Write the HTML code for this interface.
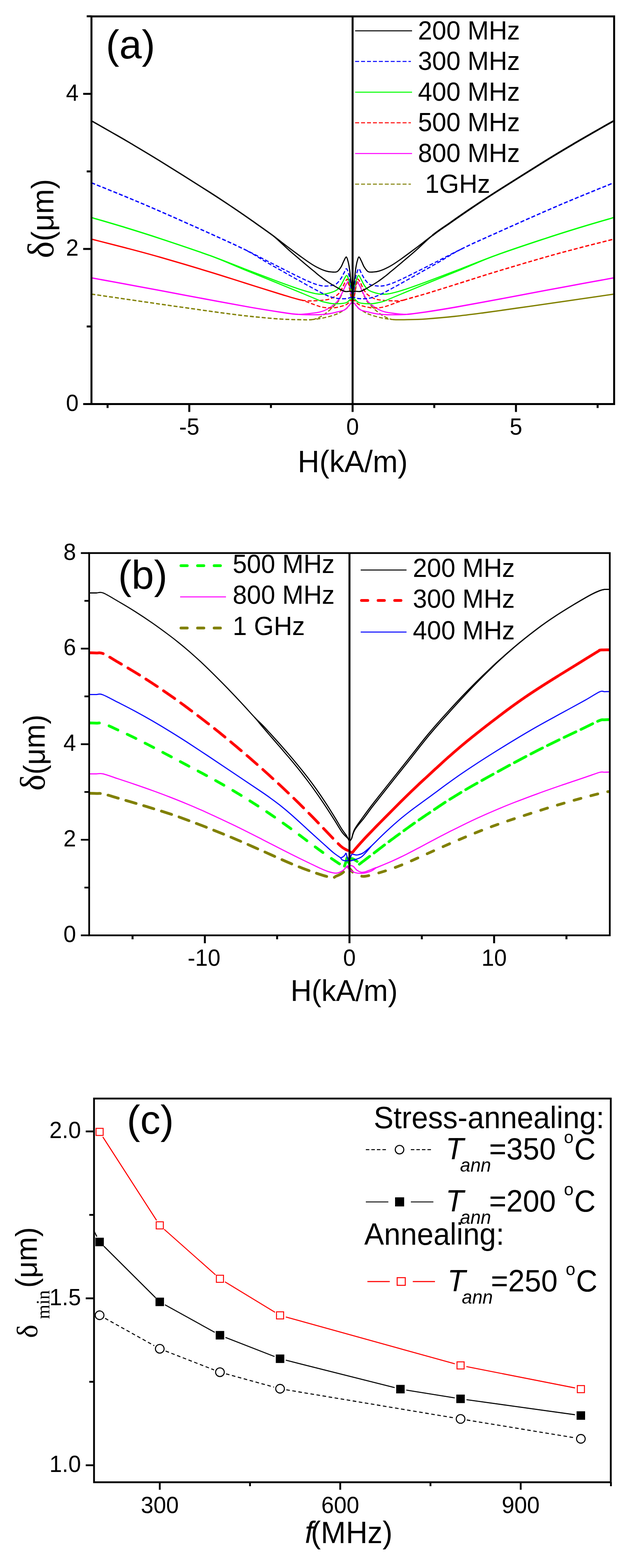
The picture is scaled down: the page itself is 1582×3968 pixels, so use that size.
<!DOCTYPE html>
<html><head><meta charset="utf-8"><title>Figure</title>
<style>html,body{margin:0;padding:0;background:#fff;}svg{display:block;}</style>
</head><body>
<svg width="1582" height="3968" viewBox="0 0 1582 3968">
<rect width="1582" height="3968" fill="#fff"/>
<clipPath id="ca"><rect x="231.5" y="41.5" width="1323.0" height="981.0"/></clipPath>
<g clip-path="url(#ca)">
<path d="M231.5,744.3C245.8,746.4 288.6,752.6 317.6,756.9C346.6,761.1 378.5,765.7 405.3,769.6C432.1,773.5 452.5,776.4 478.3,780C504.1,783.7 534.2,788.1 560,791.5C585.8,794.9 608.7,798 633,800.5C657.3,803.1 685.7,805.7 706,807.1C726.3,808.5 740.5,808.7 754.7,808.9C768.9,809.2 782.1,809.8 791.3,808.6" fill="none" stroke="#808000" stroke-width="3.3" stroke-linecap="butt" stroke-linejoin="round" stroke-dasharray="10 5"/>
<path d="M993.7,808.6C1004.6,809.4 1016.1,809.2 1030.3,808.9C1044.5,808.7 1058.7,808.5 1079,807.1C1099.3,805.7 1127.7,803.1 1152,800.5C1176.3,798 1199.2,794.9 1225,791.5C1250.8,788.1 1280.9,783.7 1306.7,780C1332.5,776.4 1352.9,773.5 1379.7,769.6C1406.5,765.7 1438.4,761.1 1467.4,756.9C1496.4,752.6 1539.2,746.4 1553.5,744.3" fill="none" stroke="#808000" stroke-width="3.3" stroke-linecap="butt" stroke-linejoin="round"/>
<path d="M791.3,808.6C800.5,807.4 805.3,803.9 810,802C814.7,800 815.5,799.4 819.5,796.6C823.5,793.8 829.6,789 834.1,785.1C838.6,781.2 843,776.9 846.7,773.1C850.4,769.3 853.6,766.7 856.5,762.3C859.4,757.9 862,751.7 864.3,746.7C866.6,741.7 868.2,736.6 870.1,732.1C872,727.6 874.3,722.6 875.9,719.5C877.5,716.4 878.3,713.1 879.5,713.5C880.7,713.9 881.8,716.8 883,722C884.2,727.2 885.8,738.7 887,745C888.2,751.3 889.1,756.2 890,760C890.9,763.8 891.3,766.6 892.5,768C893.7,769.4 895,766.2 897.4,768.2C899.8,770.2 903,776.3 907.1,779.8C911.2,783.3 916.8,786.5 921.7,789.2C926.6,791.9 929.1,793.7 936.3,796.2C943.5,798.7 955.4,802.1 965,804.2C974.6,806.3 982.8,807.8 993.7,808.6" fill="none" stroke="#808000" stroke-width="2.9" stroke-linecap="butt" stroke-linejoin="round" stroke-dasharray="10 5"/>
<path d="M791.3,808.6C802.2,807.8 810.4,806.3 820,804.2C829.6,802.1 841.5,798.7 848.7,796.2C855.9,793.7 858.4,791.9 863.3,789.2C868.2,786.5 873.8,783.3 877.9,779.8C882,776.3 885.2,771 887.6,768.2C890,765.4 891.3,764.4 892.5,763C893.7,761.6 894.1,763 895,760C895.9,757 896.8,751.3 898,745C899.2,738.7 900.8,727.2 902,722C903.2,716.8 904.3,713.9 905.5,713.5C906.7,713.1 907.5,716.4 909.1,719.5C910.7,722.6 913,727.6 914.9,732.1C916.8,736.6 918.4,741.7 920.7,746.7C923,751.7 925.6,757.9 928.5,762.3C931.4,766.7 934.6,769.3 938.3,773.1C942,776.9 946.4,781.2 950.9,785.1C955.4,789 961.5,793.8 965.5,796.6C969.5,799.4 970.3,800 975,802C979.7,803.9 984.5,807.4 993.7,808.6" fill="none" stroke="#808000" stroke-width="2.9" stroke-linecap="butt" stroke-linejoin="round" stroke-dasharray="10 5" stroke-dashoffset="5"/>
<path d="M231.5,703.2C245.8,705.8 288.6,713.6 317.6,718.9C346.6,724.2 369.9,728.6 405.3,735.2C440.7,741.8 492.1,751.6 530,758.7C568,765.7 603.7,772.4 633,777.5C662.3,782.6 685.7,786.3 706,789.3C726.3,792.3 739,795.1 754.7,795.5" fill="none" stroke="#ff00ff" stroke-width="3.3" stroke-linecap="butt" stroke-linejoin="round"/>
<path d="M1030.3,795.5C1046.5,794.3 1058.7,792.3 1079,789.3C1099.3,786.3 1122.7,782.6 1152,777.5C1181.3,772.4 1217,765.7 1255,758.7C1293,751.6 1344.3,741.8 1379.7,735.2C1415.1,728.6 1438.4,724.2 1467.4,718.9C1496.4,713.6 1539.2,705.8 1553.5,703.2" fill="none" stroke="#ff00ff" stroke-width="3.3" stroke-linecap="butt" stroke-linejoin="round"/>
<path d="M754.7,795.5C770.4,795.9 789.2,792.9 800,791.4C810.8,789.9 813,789.1 819.5,786.5C826,783.8 833.3,779.4 839,775.6C844.7,771.7 849.6,768.1 853.6,763.3C857.6,758.5 860.1,752.9 863.3,746.7C866.5,740.5 870.1,731.9 873,726.3C875.9,720.7 879,714 880.8,713C882.6,712 883,715.8 884,720C885,724.2 886,732.2 887,738C888,743.8 889.1,750.5 890,755C890.9,759.5 891.3,762.8 892.5,765C893.7,767.2 894.1,765.1 897.4,768.2C900.6,771.3 906.3,780.2 912,783.7C917.7,787.2 924.1,787.6 931.4,789.4C938.7,791.3 947.4,793.4 955.8,794.6C964.2,795.7 969.2,796.3 981.6,796.5C994,796.7 1014.1,796.7 1030.3,795.5" fill="none" stroke="#ff00ff" stroke-width="2.9" stroke-linecap="butt" stroke-linejoin="round"/>
<path d="M754.7,795.5C770.9,796.7 791,796.7 803.4,796.5C815.8,796.3 820.8,795.7 829.2,794.6C837.6,793.4 846.3,791.3 853.6,789.4C860.9,787.6 867.3,787.2 873,783.7C878.7,780.2 884.4,771.8 887.6,768.2C890.9,764.6 891.3,764.2 892.5,762C893.7,759.8 894.1,759 895,755C895.9,751 897,743.8 898,738C899,732.2 900,724.2 901,720C902,715.8 902.4,712 904.2,713C906,714 909.1,720.7 912,726.3C914.9,731.9 918.5,740.5 921.7,746.7C924.9,752.9 927.4,758.5 931.4,763.3C935.4,768.1 940.3,771.7 946,775.6C951.7,779.4 959,783.8 965.5,786.5C972,789.1 974.2,789.9 985,791.4C995.8,792.9 1014.6,795.9 1030.3,795.5" fill="none" stroke="#ff00ff" stroke-width="2.9" stroke-linecap="butt" stroke-linejoin="round"/>
<path d="M231.5,605.2C245.8,608.8 288.6,619.5 317.6,627.1C346.6,634.7 369.9,640.7 405.3,650.9C440.7,661 494.6,677 530,687.8C565.4,698.5 588.4,706.2 617.6,715.4C646.8,724.6 680.9,735.4 705.3,742.8C729.6,750.1 747.9,756.6 763.7,759.6" fill="none" stroke="#ff0000" stroke-width="3.3" stroke-linecap="butt" stroke-linejoin="round"/>
<path d="M1021.3,759.6C1037.9,754.4 1055.3,750.1 1079.7,742.8C1104.1,735.4 1138.2,724.6 1167.4,715.4C1196.6,706.2 1219.6,698.5 1255,687.8C1290.4,677 1344.3,661 1379.7,650.9C1415.1,640.7 1438.4,634.7 1467.4,627.1C1496.4,619.5 1539.2,608.8 1553.5,605.2" fill="none" stroke="#ff0000" stroke-width="3.3" stroke-linecap="butt" stroke-linejoin="round" stroke-dasharray="10 5"/>
<path d="M763.7,759.6C779.5,762.6 789.1,761.2 800,761C810.9,760.7 821.9,759.5 829.2,758.1C836.5,756.7 839.2,754.8 843.8,752.4C848.3,750 852.8,747.7 856.5,743.8C860.2,739.9 863.5,734.1 866.2,729.2C869,724.3 870.9,718.4 873,714.6C875.1,710.8 877.4,706.9 878.9,706.5C880.4,706.1 880.8,708.1 882,712C883.2,715.9 884.8,724 886,730C887.2,736 887.9,743 889,748C890.1,753 891.1,757.9 892.5,760C893.9,762.1 895,758.7 897.4,760.4C899.8,762.1 903,767.6 907.1,770.1C911.2,772.6 916.8,773.9 921.7,775.3C926.6,776.7 931.4,777.9 936.3,778.5C941.2,779.2 946,779.4 950.9,779.3C955.8,779.2 960.6,778.8 965.5,777.9C970.4,777.1 970.8,777.3 980.1,774.2C989.4,771.2 1004.7,764.8 1021.3,759.6" fill="none" stroke="#ff0000" stroke-width="2.9" stroke-linecap="butt" stroke-linejoin="round" stroke-dasharray="10 5"/>
<path d="M763.7,759.6C780.3,764.8 795.6,771.2 804.9,774.2C814.2,777.3 814.6,777.1 819.5,777.9C824.4,778.8 829.2,779.2 834.1,779.3C839,779.4 843.8,779.2 848.7,778.5C853.6,777.9 858.4,776.7 863.3,775.3C868.2,773.9 873.8,772.6 877.9,770.1C882,767.6 885.2,762.4 887.6,760.4C890,758.4 891.1,760.1 892.5,758C893.9,755.9 894.9,752.7 896,748C897.1,743.3 897.8,736 899,730C900.2,724 901.8,715.9 903,712C904.2,708.1 904.6,706.1 906.1,706.5C907.6,706.9 909.9,710.8 912,714.6C914.1,718.4 916,724.3 918.8,729.2C921.5,734.1 924.8,739.9 928.5,743.8C932.2,747.7 936.7,750 941.2,752.4C945.8,754.8 948.5,756.7 955.8,758.1C963.1,759.5 974.1,760.7 985,761C995.9,761.2 1005.5,762.6 1021.3,759.6" fill="none" stroke="#ff0000" stroke-width="2.9" stroke-linecap="butt" stroke-linejoin="round" stroke-dasharray="10 5" stroke-dashoffset="5"/>
<path d="M231.5,550.5C245.8,554.7 288.6,567 317.6,575.9C346.6,584.8 369.9,592 405.3,603.7C440.7,615.4 494.6,633.5 530,646.2" fill="none" stroke="#00ff00" stroke-width="3.3" stroke-linecap="butt" stroke-linejoin="round"/>
<path d="M1255,646.2C1290.4,633.1 1344.3,615.4 1379.7,603.7C1415.1,592 1438.4,584.8 1467.4,575.9C1496.4,567 1539.2,554.7 1553.5,550.5" fill="none" stroke="#00ff00" stroke-width="3.3" stroke-linecap="butt" stroke-linejoin="round"/>
<path d="M530,646.2C565.4,658.9 588.4,668.7 617.6,679.8C646.8,691 680.9,704.1 705.3,713.1C729.6,722.1 748.1,728.7 763.7,733.7C779.3,738.7 789.4,741.3 798.7,743.1C808,744.9 812.8,744.9 819.5,744.4C826.2,743.8 833.3,741.7 839,739.9C844.7,738 849.6,736.2 853.6,733.1C857.6,730 860.1,726.4 863.3,721.4C866.5,716.4 870.6,707 873,702.9C875.4,698.8 876.1,696.9 877.4,696.9C878.7,696.9 879.6,699.6 881,703C882.4,706.4 884.3,711.4 885.7,717.4C887.1,723.4 888.5,732.7 889.6,739C890.7,745.3 891.2,752.1 892.5,755C893.8,757.9 895,754.8 897.4,756.5C899.8,758.2 903,763.3 907.1,765.2C911.2,767.1 916,767.6 921.7,768.1C927.4,768.7 933.9,769.2 941.2,768.6C948.5,767.9 959.5,765.6 965.5,764.1C971.5,762.7 968.2,763.7 977.5,760C986.8,756.2 1004.3,748.7 1021.3,741.6C1038.3,734.6 1055.3,727.6 1079.7,717.7C1104.1,707.8 1138.2,694 1167.4,682.1C1196.6,670.2 1219.6,659.3 1255,646.2" fill="none" stroke="#00ff00" stroke-width="2.9" stroke-linecap="butt" stroke-linejoin="round"/>
<path d="M530,646.2C565.4,659.3 588.4,670.2 617.6,682.1C646.8,694 680.9,707.8 705.3,717.7C729.6,727.6 746.7,734.6 763.7,741.6C780.7,748.7 798.2,756.2 807.5,760C816.8,763.7 813.5,762.7 819.5,764.1C825.5,765.6 836.5,767.9 843.8,768.6C851.1,769.2 857.6,768.7 863.3,768.1C869,767.6 873.8,767.1 877.9,765.2C882,763.3 885.2,758.2 887.6,756.5C890,754.8 891.2,757.9 892.5,755C893.8,752.1 894.3,745.3 895.4,739C896.5,732.7 897.9,723.4 899.3,717.4C900.7,711.4 902.6,706.4 904,703C905.4,699.6 906.3,696.9 907.6,696.9C908.9,696.9 909.6,698.8 912,702.9C914.4,707 918.5,716.4 921.7,721.4C924.9,726.4 927.4,730 931.4,733.1C935.4,736.2 940.3,738 946,739.9C951.7,741.7 958.8,743.8 965.5,744.4C972.2,744.9 977,744.9 986.3,743.1C995.6,741.3 1005.7,738.7 1021.3,733.7C1036.9,728.7 1055.3,722.1 1079.7,713.1C1104.1,704.1 1138.2,691 1167.4,679.8C1196.6,668.7 1219.6,658.9 1255,646.2" fill="none" stroke="#00ff00" stroke-width="2.9" stroke-linecap="butt" stroke-linejoin="round"/>
<path d="M231.5,462.6C245.8,468.4 288.6,485.6 317.6,497.6C346.6,509.6 369.9,519.3 405.3,534.8C440.7,550.2 494.6,574.3 530,590.2C565.4,606.2 593.3,618.8 617.6,630.5" fill="none" stroke="#0000ff" stroke-width="3.3" stroke-linecap="butt" stroke-linejoin="round" stroke-dasharray="10 5"/>
<path d="M1167.4,630.5C1191.7,618.1 1219.6,606.2 1255,590.2C1290.4,574.3 1344.3,550.2 1379.7,534.8C1415.1,519.3 1438.4,509.6 1467.4,497.6C1496.4,485.6 1539.2,468.4 1553.5,462.6" fill="none" stroke="#0000ff" stroke-width="3.3" stroke-linecap="butt" stroke-linejoin="round" stroke-dasharray="10 5"/>
<path d="M617.6,630.5C641.9,642.2 656.5,650.3 676,660.2C695.5,670.1 717.5,681.4 734.5,689.9C751.5,698.4 766.7,705.9 778.3,711.1C789.9,716.2 796.6,718.7 803.9,720.8C811.2,723 816.6,723.7 822.1,724C827.6,724.3 832.2,723.6 837,722.7C841.8,721.9 846.4,721.8 850.6,719C854.8,716.2 859,710.3 862.3,705.8C865.5,701.3 867.7,696.3 870.1,692C872.5,687.7 874.8,679.6 876.9,679.9C879,680.2 881.3,689.4 882.8,694C884.3,698.6 884.7,701.6 885.7,707.6C886.7,713.6 887.9,722.6 889,730C890.1,737.4 891.1,748.2 892.5,752C893.9,755.8 895,752 897.4,752.6C899.8,753.2 903,754.9 907.1,755.5C911.2,756.1 916.8,756.1 921.7,756C926.6,755.8 931.6,755.3 936.3,754.4C941,753.5 945.6,752.1 950,750.5C954.4,749 958,747.4 962.9,745.1C967.8,742.8 971.9,740.7 979.2,736.9C986.5,733 994.8,728.4 1006.7,721.9C1018.6,715.3 1033.5,707 1050.5,697.4C1067.5,687.8 1089.5,675.5 1109,664.3C1128.5,653.2 1143.1,642.9 1167.4,630.5" fill="none" stroke="#0000ff" stroke-width="2.9" stroke-linecap="butt" stroke-linejoin="round" stroke-dasharray="10 5"/>
<path d="M617.6,630.5C641.9,642.9 656.5,653.2 676,664.3C695.5,675.5 717.5,687.8 734.5,697.4C751.5,707 766.4,715.3 778.3,721.9C790.2,728.4 798.5,733 805.8,736.9C813.1,740.7 817.2,742.8 822.1,745.1C827,747.4 830.6,749 835,750.5C839.4,752.1 844,753.5 848.7,754.4C853.4,755.3 858.4,755.8 863.3,756C868.2,756.1 873.8,756.1 877.9,755.5C882,754.9 885.2,753.2 887.6,752.6C890,752 891.1,755.8 892.5,752C893.9,748.2 894.9,737.4 896,730C897.1,722.6 898.3,713.6 899.3,707.6C900.3,701.6 900.7,698.6 902.2,694C903.7,689.4 906,680.2 908.1,679.9C910.2,679.6 912.5,687.7 914.9,692C917.3,696.3 919.5,701.3 922.7,705.8C926,710.3 930.2,716.2 934.4,719C938.6,721.8 943.2,721.9 948,722.7C952.8,723.6 957.4,724.3 962.9,724C968.4,723.7 973.8,723 981.1,720.8C988.4,718.7 995.1,716.2 1006.7,711.1C1018.3,705.9 1033.5,698.4 1050.5,689.9C1067.5,681.4 1089.5,670.1 1109,660.2C1128.5,650.3 1143.1,642.2 1167.4,630.5" fill="none" stroke="#0000ff" stroke-width="2.9" stroke-linecap="butt" stroke-linejoin="round" stroke-dasharray="10 5" stroke-dashoffset="5"/>
<path d="M231.5,305.8C240,310.6 266.8,325.8 282.6,334.9C298.4,343.9 305.9,348 326.4,360.2C346.8,372.3 371.4,386.6 405.3,407.6C439.2,428.6 499.5,466.6 530,486C560.5,505.5 568.9,511.3 588.4,524.4C607.9,537.5 629.8,552.7 646.8,564.7C663.8,576.6 676.1,585.2 690.7,596" fill="none" stroke="#000" stroke-width="3.3" stroke-linecap="butt" stroke-linejoin="round"/>
<path d="M1094.3,596C1108.9,584.2 1121.2,576.6 1138.2,564.7C1155.2,552.7 1177.1,537.5 1196.6,524.4C1216.1,511.3 1224.5,505.5 1255,486C1285.5,466.6 1345.8,428.6 1379.7,407.6C1413.6,386.6 1438.1,372.3 1458.6,360.2C1479,348 1486.6,343.9 1502.4,334.9C1518.2,325.8 1545,310.6 1553.5,305.8" fill="none" stroke="#000" stroke-width="4.3" stroke-linecap="butt" stroke-linejoin="round"/>
<path d="M690.7,596C705.3,606.8 719.9,618.6 734.5,629.5C749.1,640.4 767.4,653.9 778.3,661.4C789.2,669 792.3,671 800,675C807.7,679.1 817.5,683.5 824.3,685.7C831.1,687.9 836,688.2 840.9,688.4C845.8,688.7 849.9,689.4 853.6,687.2C857.3,685 860.5,679.9 863.3,675.5C866,671.1 867.9,665.1 870.1,660.9C872.3,656.7 874.6,650.2 876.4,650.2C878.2,650.2 879.6,656.9 880.8,660.9C882,664.9 882.9,670 883.7,674.5C884.5,679 885.1,682.7 885.7,688.2C886.4,693.7 887,702 887.6,707.6C888.2,713.2 888.7,717.1 889.5,722C890.3,726.9 890.7,734.5 892.5,737C894.3,739.5 897,736.9 900.3,737C903.5,737.1 907.3,738.7 912,737.5C916.7,736.3 921.2,733.6 928.5,729.6C935.8,725.5 948,718.2 955.8,713.1C963.6,708 970.4,702.5 975.3,698.8C980.2,695.1 979.8,695.2 985,690.8C990.2,686.5 995.8,682 1006.7,672.8C1017.6,663.6 1035.9,648.5 1050.5,635.7C1065.1,622.9 1079.7,607.8 1094.3,596" fill="none" stroke="#000" stroke-width="2.9" stroke-linecap="butt" stroke-linejoin="round"/>
<path d="M690.7,596C705.3,607.8 719.9,622.9 734.5,635.7C749.1,648.5 767.4,663.6 778.3,672.8C789.2,682 794.8,686.5 800,690.8C805.2,695.2 804.8,695.1 809.7,698.8C814.6,702.5 821.4,708 829.2,713.1C837,718.2 849.2,725.5 856.5,729.6C863.8,733.6 868.3,736.3 873,737.5C877.7,738.7 881.5,737.2 884.7,737C888,736.8 890.7,739 892.5,736.5C894.3,734 894.7,726.8 895.5,722C896.3,717.2 896.8,713.2 897.4,707.6C898,702 898.6,693.7 899.3,688.2C899.9,682.7 900.5,679 901.3,674.5C902.1,670 903,664.9 904.2,660.9C905.4,656.9 906.8,650.2 908.6,650.2C910.4,650.2 912.7,656.7 914.9,660.9C917.1,665.1 919,671.1 921.7,675.5C924.5,679.9 927.7,685 931.4,687.2C935.1,689.4 939.2,688.7 944.1,688.4C949,688.2 953.9,687.9 960.7,685.7C967.5,683.5 977.3,679.1 985,675C992.7,671 995.8,669 1006.7,661.4C1017.6,653.9 1035.9,640.4 1050.5,629.5C1065.1,618.6 1079.7,606.8 1094.3,596" fill="none" stroke="#000" stroke-width="2.9" stroke-linecap="butt" stroke-linejoin="round"/>
</g>
<line x1="892.5" y1="41.5" x2="892.5" y2="1022.5" stroke="#000" stroke-width="5" stroke-linecap="butt"/>
<rect x="231.5" y="41.5" width="1323" height="981" fill="none" stroke="#000" stroke-width="5"/>
<line x1="210.5" y1="1022.5" x2="231.5" y2="1022.5" stroke="#000" stroke-width="5" stroke-linecap="butt"/>
<line x1="210.5" y1="630" x2="231.5" y2="630" stroke="#000" stroke-width="5" stroke-linecap="butt"/>
<line x1="210.5" y1="237.5" x2="231.5" y2="237.5" stroke="#000" stroke-width="5" stroke-linecap="butt"/>
<line x1="219.5" y1="826.2" x2="231.5" y2="826.2" stroke="#000" stroke-width="5" stroke-linecap="butt"/>
<line x1="219.5" y1="433.8" x2="231.5" y2="433.8" stroke="#000" stroke-width="5" stroke-linecap="butt"/>
<line x1="219.5" y1="41.2" x2="231.5" y2="41.2" stroke="#000" stroke-width="5" stroke-linecap="butt"/>
<line x1="479.1" y1="1022.5" x2="479.1" y2="1042.5" stroke="#000" stroke-width="5" stroke-linecap="butt"/>
<line x1="892.5" y1="1022.5" x2="892.5" y2="1042.5" stroke="#000" stroke-width="5" stroke-linecap="butt"/>
<line x1="1306" y1="1022.5" x2="1306" y2="1042.5" stroke="#000" stroke-width="5" stroke-linecap="butt"/>
<line x1="272.3" y1="1022.5" x2="272.3" y2="1032.5" stroke="#000" stroke-width="5" stroke-linecap="butt"/>
<line x1="685.8" y1="1022.5" x2="685.8" y2="1032.5" stroke="#000" stroke-width="5" stroke-linecap="butt"/>
<line x1="1099.2" y1="1022.5" x2="1099.2" y2="1032.5" stroke="#000" stroke-width="5" stroke-linecap="butt"/>
<line x1="1512.7" y1="1022.5" x2="1512.7" y2="1032.5" stroke="#000" stroke-width="5" stroke-linecap="butt"/>
<text transform="translate(199,1039.5) scale(1,1.03)" font-size="57.5" text-anchor="end" font-family='"Liberation Sans", Arial, sans-serif' xml:space="preserve">0</text>
<text transform="translate(199,647) scale(1,1.03)" font-size="57.5" text-anchor="end" font-family='"Liberation Sans", Arial, sans-serif' xml:space="preserve">2</text>
<text transform="translate(199,254.5) scale(1,1.03)" font-size="57.5" text-anchor="end" font-family='"Liberation Sans", Arial, sans-serif' xml:space="preserve">4</text>
<text transform="translate(479.1,1100) scale(1,1.03)" font-size="57.5" text-anchor="middle" font-family='"Liberation Sans", Arial, sans-serif' xml:space="preserve">-5</text>
<text transform="translate(892.5,1100) scale(1,1.03)" font-size="57.5" text-anchor="middle" font-family='"Liberation Sans", Arial, sans-serif' xml:space="preserve">0</text>
<text transform="translate(1306,1100) scale(1,1.03)" font-size="57.5" text-anchor="middle" font-family='"Liberation Sans", Arial, sans-serif' xml:space="preserve">5</text>
<text transform="translate(892.8,1194.8) scale(1,1.03)" font-size="76" text-anchor="middle" font-family='"Liberation Sans", Arial, sans-serif' xml:space="preserve">H(kA/m)</text>
<text transform="translate(135,653.5) rotate(-90) scale(1,1.03)" font-size="76" font-family='"Liberation Sans", Arial, sans-serif'><tspan font-family='"Liberation Serif", "Times New Roman", serif' font-size="91">δ</tspan>(μm)</text>
<text transform="translate(268,148) scale(1,1.0)" font-size="102" text-anchor="start" font-family='"Liberation Sans", Arial, sans-serif' xml:space="preserve">(a)</text>
<line x1="899" y1="78" x2="1043" y2="78" stroke="#000" stroke-width="2.5" stroke-linecap="butt"/>
<text transform="translate(1058,99.5) scale(1,1.03)" font-size="64.5" text-anchor="start" font-family='"Liberation Sans", Arial, sans-serif' xml:space="preserve">200 MHz</text>
<line x1="899" y1="155.6" x2="1040" y2="155.6" stroke="#0000ff" stroke-width="2.5" stroke-linecap="butt" stroke-dasharray="10 5"/>
<text transform="translate(1058,177.1) scale(1,1.03)" font-size="64.5" text-anchor="start" font-family='"Liberation Sans", Arial, sans-serif' xml:space="preserve">300 MHz</text>
<line x1="899" y1="233.2" x2="1043" y2="233.2" stroke="#00ff00" stroke-width="2.5" stroke-linecap="butt"/>
<text transform="translate(1058,254.7) scale(1,1.03)" font-size="64.5" text-anchor="start" font-family='"Liberation Sans", Arial, sans-serif' xml:space="preserve">400 MHz</text>
<line x1="899" y1="310.8" x2="1040" y2="310.8" stroke="#ff0000" stroke-width="2.5" stroke-linecap="butt" stroke-dasharray="10 5"/>
<text transform="translate(1058,332.3) scale(1,1.03)" font-size="64.5" text-anchor="start" font-family='"Liberation Sans", Arial, sans-serif' xml:space="preserve">500 MHz</text>
<line x1="899" y1="388.4" x2="1043" y2="388.4" stroke="#ff00ff" stroke-width="2.5" stroke-linecap="butt"/>
<text transform="translate(1058,409.9) scale(1,1.03)" font-size="64.5" text-anchor="start" font-family='"Liberation Sans", Arial, sans-serif' xml:space="preserve">800 MHz</text>
<line x1="899" y1="466" x2="1040" y2="466" stroke="#808000" stroke-width="2.5" stroke-linecap="butt" stroke-dasharray="10 5"/>
<text transform="translate(1058,487.5) scale(1,1.03)" font-size="64.5" text-anchor="start" font-family='"Liberation Sans", Arial, sans-serif' xml:space="preserve"> 1GHz</text>
<clipPath id="cb"><rect x="225.7" y="1399.6" width="1317.8" height="967.4000000000001"/></clipPath>
<g clip-path="url(#cb)">
<path d="M227,2007.5C229.8,2007.6 238.3,2007.8 244,2008C249.7,2008.2 252,2007.1 261,2009C270,2010.9 284.5,2015.7 298,2019.6C311.5,2023.5 327.2,2028 341.8,2032.4C356.4,2036.7 371.1,2041.1 385.7,2045.6C400.3,2050.1 417.3,2055.4 429.5,2059.4C441.7,2063.3 443.6,2063.9 458.7,2069.5C473.8,2075 497.8,2083.9 520,2092.6C542.2,2101.3 568,2111.6 592,2121.7C616,2131.8 640.1,2142.7 664.1,2153.3C688.1,2163.9 715.2,2176.5 736.2,2185.3C757.2,2194.1 773.4,2200.2 790.2,2206.1C807,2211.9 826.8,2218.6 837,2220.4C847.2,2222.2 846.3,2219.1 851.4,2217.1C856.5,2215.1 862.7,2212.4 867.5,2208.5C872.3,2204.6 878.2,2196 880.3,2193.5" fill="none" stroke="#808000" stroke-width="7" stroke-linecap="round" stroke-linejoin="round" stroke-dasharray="27 20"/>
<path d="M880.3,2193.5C881.4,2194.6 884.7,2197.5 887,2200C889.3,2202.5 890.5,2205.8 894.3,2208.5C898.1,2211.2 904.4,2214.6 910,2216C915.6,2217.4 918.3,2218.6 928.1,2216.9C937.9,2215.2 954.9,2210.3 968.8,2206C982.7,2201.7 997.2,2196.5 1011.4,2191C1025.6,2185.5 1039.7,2179.1 1053.9,2172.8C1068.1,2166.6 1082.3,2160 1096.5,2153.6C1110.7,2147.3 1124.8,2141 1139,2134.8C1153.2,2128.6 1167.4,2122.6 1181.6,2116.7C1195.8,2110.8 1211,2104.6 1224.1,2099.5C1237.2,2094.5 1247.3,2090.7 1260,2086.2C1272.7,2081.6 1283.6,2077.9 1300.4,2072.4C1317.2,2066.8 1340.6,2059.2 1360.7,2052.8C1380.8,2046.5 1401,2040.2 1421.1,2034.3C1441.2,2028.4 1462.9,2022.4 1481.5,2017.4C1500.1,2012.4 1522.2,2006.5 1532.8,2004.3C1543.4,2002.1 1543,2004 1545,2004" fill="none" stroke="#808000" stroke-width="7" stroke-linecap="round" stroke-linejoin="round" stroke-dasharray="18 26"/>
<path d="M227,1958.4C229.8,1958.4 238.3,1958.4 244,1958.4C249.7,1958.4 252,1956.4 261,1958.4C270,1960.4 284.5,1966.1 298,1970.5C311.5,1975 327.2,1980.1 341.8,1985.1C356.4,1990.1 371.1,1995.2 385.7,2000.5C400.3,2005.8 414.9,2011.2 429.5,2016.9C444.1,2022.6 457.4,2027.8 473.3,2034.5C489.2,2041.1 505.2,2047.9 525,2056.9C544.8,2065.9 568.8,2077 592,2088.3C615.2,2099.5 640.1,2112.2 664.1,2124.4C688.1,2136.6 712.2,2149.3 736.2,2161.2C760.2,2173.2 792.6,2188.8 808.2,2196.2C823.8,2203.5 822.8,2203.1 830,2205.3C837.2,2207.5 845.1,2209.9 851.4,2209.6C857.6,2209.2 863,2206 867.5,2203.2C872,2200.3 876.4,2194.3 878.2,2192.5" fill="none" stroke="#ff00ff" stroke-width="2.8" stroke-linecap="butt" stroke-linejoin="round"/>
<path d="M878.2,2192.5C879.5,2192.1 883.3,2190 886,2190C888.7,2190 891.1,2190.3 894.3,2192.5C897.5,2194.7 900.5,2200.8 905,2203.2C909.5,2205.6 913.2,2208.3 921,2207C928.8,2205.7 946.8,2197.2 952,2195.2" fill="none" stroke="#ff00ff" stroke-width="2.8" stroke-linecap="butt" stroke-linejoin="round"/>
<path d="M878.2,2192.5C879.2,2193.8 880.4,2197.3 884,2200C887.6,2202.7 893.4,2206.9 899.6,2208.5C905.8,2210.1 914.3,2210.3 921,2209.6C927.7,2208.8 934.8,2206.3 940,2204C945.2,2201.7 950,2197.3 952,2196" fill="none" stroke="#ff00ff" stroke-width="2.8" stroke-linecap="butt" stroke-linejoin="round"/>
<path d="M952,2196C958.5,2193.3 978.3,2185.3 991,2179.7C1003.7,2174.1 1015.7,2168.3 1028,2162.2C1040.3,2156.1 1052.7,2149.4 1065,2142.9C1077.3,2136.4 1089.7,2129.7 1102,2123.2C1114.3,2116.7 1126.7,2110.4 1139,2104.1C1151.3,2097.9 1163.7,2091.7 1176,2085.7C1188.3,2079.7 1199,2074.5 1213,2068.2C1227,2061.8 1245.4,2053.8 1260,2047.7C1274.6,2041.5 1283.6,2037.9 1300.4,2031.3C1317.2,2024.8 1340.6,2015.9 1360.7,2008.6C1380.8,2001.2 1401,1994.2 1421.1,1987.3C1441.2,1980.3 1465.4,1972.4 1481.5,1966.9C1497.6,1961.5 1509.6,1956.6 1517.7,1954.5C1525.8,1952.4 1525.5,1954.2 1530,1954.1C1534.5,1954 1542.5,1953.9 1545,1953.9" fill="none" stroke="#ff00ff" stroke-width="2.8" stroke-linecap="butt" stroke-linejoin="round"/>
<path d="M227,1829.5C229.8,1829.6 238.3,1829.8 244,1830C249.7,1830.2 252,1828.2 261,1831C270,1833.8 284.5,1840.9 298,1847.1C311.5,1853.2 327.2,1860.6 341.8,1867.7C356.4,1874.9 371.1,1882.5 385.7,1890.1C400.3,1897.7 414.9,1905.5 429.5,1913.2C444.1,1920.9 457.4,1927.9 473.3,1936.4C489.2,1944.8 508.2,1954.8 525,1963.9C541.8,1973.1 556.8,1981.3 574,1991.3C591.2,2001.3 610.1,2012.6 628.1,2023.9C646.1,2035.1 664.1,2046.8 682.1,2059C700.1,2071.1 718.2,2084 736.2,2097C754.2,2110.1 775.2,2126.3 790.2,2137.4C805.2,2148.5 814.2,2155.2 826.2,2163.6C838.2,2172.1 854.7,2183.3 862.3,2188C869.9,2192.7 870.4,2191 872,2191.6" fill="none" stroke="#00ff00" stroke-width="7" stroke-linecap="round" stroke-linejoin="round" stroke-dasharray="24.5 26"/>
<path d="M872,2191.6C872.7,2189.7 875,2183.4 876,2180C877,2176.6 877.4,2171.3 878.2,2171C879,2170.7 880,2175.5 881,2178C882,2180.5 883.5,2184.7 884,2186" fill="none" stroke="#00ff00" stroke-width="7" stroke-linecap="round" stroke-linejoin="round"/>
<path d="M886,2172C887,2172.2 890,2172.3 892,2173C894,2173.7 896,2174.8 898,2176C900,2177.2 903,2179.3 904,2180" fill="none" stroke="#00ff00" stroke-width="7" stroke-linecap="round" stroke-linejoin="round"/>
<path d="M909.6,2187C913,2184.4 922.6,2177.1 930,2171.4C937.4,2165.8 946.1,2159.1 954,2153.1C961.9,2147 970.3,2140.6 977.4,2135.2C984.5,2129.8 990.3,2125.5 996.8,2120.7C1003.3,2115.9 1010.8,2110.5 1016.3,2106.5C1021.8,2102.4 1024.3,2100.6 1030,2096.5C1035.7,2092.4 1043.7,2086.6 1050.7,2081.7C1057.7,2076.8 1065,2071.9 1072.1,2067C1079.2,2062.2 1087.2,2056.9 1093.5,2052.6C1099.8,2048.4 1103.5,2045.8 1110,2041.5C1116.5,2037.2 1122.5,2033 1132.2,2026.8C1141.9,2020.7 1156.2,2011.8 1168.2,2004.6C1180.2,1997.4 1192.2,1990.6 1204.2,1983.8C1216.2,1977 1224,1972.6 1240,1963.8C1256,1954.9 1280.3,1941.5 1300.4,1930.7C1320.5,1920 1340.6,1909.4 1360.7,1899.2C1380.8,1889 1401,1879.2 1421.1,1869.4C1441.2,1859.7 1465.4,1848.3 1481.5,1840.6C1497.6,1832.9 1509.6,1826.4 1517.7,1823.2C1525.8,1820 1525.5,1821.9 1530,1821.5C1534.5,1821.1 1542.5,1821.1 1545,1821" fill="none" stroke="#00ff00" stroke-width="7" stroke-linecap="round" stroke-linejoin="round" stroke-dasharray="33 14"/>
<path d="M227,1757.7C229.8,1757.7 238.7,1757.7 244,1757.7C249.3,1757.7 250,1754.5 259,1757.7C268,1760.9 284.2,1770.1 298,1777.1C311.8,1784.1 327.2,1792 341.8,1799.8C356.4,1807.7 371.1,1815.9 385.7,1824.3C400.3,1832.8 414.9,1841.5 429.5,1850.5C444.1,1859.4 457.4,1867.8 473.3,1878C489.2,1888.3 505.2,1898.8 525,1912C544.8,1925.1 569.5,1941.8 592,1956.9C614.5,1971.9 644.8,1992.2 660,2002.5C675.2,2012.8 675.6,2013.1 683.4,2018.8C691.2,2024.4 698.9,2030.1 706.7,2036.2C714.5,2042.3 722.3,2048.8 730.1,2055.4C737.9,2062.1 745.7,2069.1 753.5,2076.1C761.3,2083.1 769,2090.3 776.8,2097.5C784.6,2104.6 792.4,2111.8 800.2,2118.8C808,2125.9 816.3,2133.3 823.6,2139.8C830.9,2146.3 837.8,2152.8 844.2,2158C850.7,2163.2 859.3,2168.8 862.3,2171" fill="none" stroke="#0000ff" stroke-width="2.8" stroke-linecap="butt" stroke-linejoin="round"/>
<path d="M862.3,2171C863.1,2170.7 865.4,2170 867,2169C868.6,2168 870.5,2166.6 872,2165C873.5,2163.4 874.8,2158.5 876,2159.3C877.2,2160.1 877.7,2166.9 879,2170C880.3,2173.1 881.5,2176.9 884,2178C886.5,2179.1 889,2178.1 894.3,2176.4C899.6,2174.7 908.1,2173.7 915.7,2167.8C923.3,2161.9 936,2145.5 940,2141" fill="none" stroke="#0000ff" stroke-width="2.8" stroke-linecap="butt" stroke-linejoin="round"/>
<path d="M862.3,2171C862.9,2171.8 863.7,2174.8 866,2176C868.3,2177.2 873,2178.5 876,2178.5C879,2178.5 881.8,2178.2 884,2176C886.2,2173.8 887.8,2167.4 889,2165C890.2,2162.6 889.5,2161.7 891,2161.4C892.5,2161.1 895.7,2162.7 898,2163C900.3,2163.3 901.3,2164.3 905,2163.5C908.7,2162.7 914.2,2161.8 920,2158C925.8,2154.2 936.7,2143.8 940,2141" fill="none" stroke="#0000ff" stroke-width="2.8" stroke-linecap="butt" stroke-linejoin="round"/>
<path d="M940,2141C943,2138.1 951.7,2129.4 957.9,2123.3C964.1,2117.2 970.9,2110.7 977.4,2104.6C983.9,2098.5 990.3,2092.6 996.8,2086.8C1003.3,2081.1 1009.8,2075.4 1016.3,2070C1022.8,2064.7 1029.3,2059.5 1035.8,2054.5C1042.3,2049.4 1047.9,2045.3 1055.3,2039.9C1062.7,2034.5 1071.8,2027.9 1080,2021.9C1088.2,2016 1095.5,2010.5 1104.2,2004.1C1112.9,1997.7 1121.5,1991.1 1132.2,1983.4C1142.9,1975.7 1156.2,1966.1 1168.2,1957.9C1180.2,1949.6 1192.2,1941.6 1204.2,1933.8C1216.2,1926 1224,1921 1240,1910.9C1256,1900.9 1280.3,1885.6 1300.4,1873.5C1320.5,1861.3 1340.6,1849.4 1360.7,1838C1380.8,1826.5 1401,1815.8 1421.1,1804.8C1441.2,1793.7 1465.4,1780.8 1481.5,1771.8C1497.6,1762.8 1509.6,1754.3 1517.7,1750.7C1525.8,1747.1 1525.5,1750.4 1530,1750.3C1534.5,1750.2 1542.5,1750.1 1545,1750.1" fill="none" stroke="#0000ff" stroke-width="2.8" stroke-linecap="butt" stroke-linejoin="round"/>
<path d="M227,1652C229.8,1652.1 238.3,1652.2 244,1652.5C249.7,1652.8 252,1650.2 261,1654C270,1657.8 284.5,1667.3 298,1675.2C311.5,1683.1 327.2,1692.3 341.8,1701.2C356.4,1710.2 371.1,1719.5 385.7,1729.1C400.3,1738.7 414.9,1748.6 429.5,1758.8C444.1,1769 457.4,1778.6 473.3,1790.4C489.2,1802.2 508.2,1816.6 525,1829.7C541.8,1842.8 556.8,1854.8 574,1869C591.2,1883.2 610.1,1899.1 628.1,1914.7C646.1,1930.3 664.1,1946.1 682.1,1962.5C700.1,1978.9 718.2,1995.6 736.2,2012.9C754.2,2030.3 775.2,2051.3 790.2,2066.5C805.2,2081.7 817.1,2094.7 826.2,2104.2C835.3,2113.8 839,2117.7 845,2123.8C851,2130 857.8,2137 862.3,2141C866.8,2145 869,2146.2 872,2148C875,2149.8 878.7,2151.3 880,2152" fill="none" stroke="#ff0000" stroke-width="7" stroke-linecap="round" stroke-linejoin="round" stroke-dasharray="34.5 19"/>
<path d="M886,2156C887,2156.2 890,2158 892,2157C894,2156 894.2,2154.4 898,2150C901.8,2145.6 909.4,2136.9 915,2130.7C920.6,2124.6 925.3,2119.4 931.5,2113C937.7,2106.5 945,2099 952,2091.8C959,2084.7 966.5,2077.1 973.5,2070C980.5,2063 987.1,2056.3 994,2049.4C1000.9,2042.4 1007.9,2035.4 1015,2028.3C1022.1,2021.3 1029.3,2014.1 1036.5,2007.2C1043.7,2000.3 1051,1993.3 1058,1986.7C1065,1980.1 1070.8,1974.8 1078.5,1967.7C1086.2,1960.6 1095.2,1952.2 1104.2,1944C1113.2,1935.8 1121.5,1928 1132.2,1918.5C1142.9,1909.1 1156.2,1897.4 1168.2,1887.4C1180.2,1877.3 1192.2,1867.7 1204.2,1858.1C1216.2,1848.6 1226.5,1840.5 1240,1830.1C1253.5,1819.7 1270.2,1806.7 1285.3,1795.6C1300.4,1784.5 1315.5,1773.7 1330.6,1763.4C1345.7,1753.1 1360.7,1743.4 1375.8,1733.8C1390.9,1724.1 1406,1714.8 1421.1,1705.4C1436.2,1696 1451.3,1686.7 1466.4,1677.4C1481.5,1668.1 1502.8,1655 1511.7,1649.6C1520.6,1644.2 1514.5,1645.8 1520,1645C1525.5,1644.2 1540.8,1644.6 1545,1644.5" fill="none" stroke="#ff0000" stroke-width="7" stroke-linecap="round" stroke-linejoin="round"/>
<path d="M227,1500.5C229.8,1500.5 238.3,1500.5 244,1500.5C249.7,1500.5 252,1497.1 261,1500.5C270,1503.9 284.5,1513.3 298,1521.1C311.5,1528.9 327.2,1538.2 341.8,1547.5C356.4,1556.7 371.1,1566.5 385.7,1576.7C400.3,1586.9 418.2,1600.1 429.5,1608.5C440.8,1616.9 445,1620.4 453.6,1627.4C462.2,1634.3 471.8,1642.3 480.9,1650.2C490,1658.2 499.1,1666.4 508.2,1674.8C517.3,1683.3 526.3,1692.1 535.4,1701C544.5,1709.9 553.6,1719.1 562.7,1728.3C571.8,1737.5 580.9,1746.9 590,1756.5C599.1,1766 608.1,1775.7 617.2,1785.5C626.3,1795.4 636.7,1807.2 644.5,1815.4C652.3,1823.6 657.7,1828.2 664.2,1834.8C670.7,1841.5 676.3,1847.7 683.4,1855.4C690.5,1863.2 698.9,1872.4 706.7,1881.2C714.5,1889.9 722.3,1898.9 730.1,1907.9C737.9,1917 745.7,1926.3 753.5,1935.8C761.3,1945.2 769,1954.8 776.8,1964.9C784.6,1975 792.4,1985.4 800.2,1996.4C808,2007.4 815.8,2018.8 823.6,2030.7C831.4,2042.6 840,2056.4 847,2067.8C854,2079.1 860.7,2090.9 865.7,2098.8C870.8,2106.7 874.8,2111.2 877.3,2115.1C879.8,2119 879.6,2119.9 880.8,2122.1C882,2124.2 883.1,2128 884.6,2128C886.1,2128 887.9,2126.9 890,2122C892.1,2117.1 892.7,2107.7 897.5,2098.6C902.3,2089.5 912.1,2077.1 918.9,2067.5C925.7,2058 931.9,2049.7 938.4,2041.1C944.9,2032.6 951.4,2024.5 957.9,2016.2C964.4,2007.9 970.9,1999.7 977.4,1991.5C983.9,1983.3 990.3,1975.1 996.8,1967C1003.3,1958.8 1009.8,1950.8 1016.3,1942.7C1022.8,1934.6 1028.3,1927.8 1035.8,1918.2C1043.3,1908.7 1053.6,1895.5 1061.4,1885.6C1069.2,1875.7 1075.7,1867.6 1082.8,1859C1089.9,1850.4 1096,1843.3 1104.2,1833.9C1112.4,1824.5 1121.5,1814.3 1132.2,1802.6C1142.9,1790.9 1156.2,1776.4 1168.2,1763.7C1180.2,1751.1 1192.2,1738.8 1204.2,1726.9C1216.2,1715 1229,1702.7 1240,1692.4C1251,1682 1257.6,1675.8 1270.2,1664.8C1282.8,1653.8 1298.9,1639.7 1315.5,1626.2C1332.1,1612.7 1354.7,1595.1 1369.8,1583.9C1384.9,1572.7 1392.4,1567.8 1406,1558.9C1419.6,1550 1436.2,1539.7 1451.3,1530.6C1466.4,1521.6 1485.5,1510.5 1496.6,1504.5C1507.7,1498.6 1512.1,1497.1 1517.7,1494.9C1523.3,1492.8 1525.5,1492.2 1530,1491.7C1534.5,1491.2 1542.5,1491.7 1545,1491.7" fill="none" stroke="#000" stroke-width="2.8" stroke-linecap="butt" stroke-linejoin="round"/>
<path d="M644.5,1815.4C652.1,1824.1 656.5,1829.8 663,1837.5C669.5,1845.1 676.1,1852.8 683.4,1861.3C690.7,1869.7 698.9,1879.2 706.7,1888.2C714.5,1897.3 722.3,1906.2 730.1,1915.4C737.9,1924.7 745.7,1934 753.5,1943.7C761.3,1953.4 769,1963.2 776.8,1973.5C784.6,1983.8 792.4,1994.4 800.2,2005.5C808,2016.5 815.8,2028 823.6,2039.7C831.4,2051.5 840,2065 847,2076C854,2087 860.2,2098.3 865.7,2105.8C871.2,2113.3 877.4,2118.5 879.7,2121" fill="none" stroke="#000" stroke-width="2.8" stroke-linecap="butt" stroke-linejoin="round"/>
<path d="M890,2122C891.4,2118.3 893.2,2108.2 898.5,2099.6C903.7,2090.9 914.4,2079.4 921.5,2070.1C928.6,2060.8 934.5,2052.3 941,2043.7C947.5,2035.2 954,2027.1 960.5,2018.8C967,2010.5 973.5,2002.3 980,1994.1C986.5,1985.9 992.9,1977.7 999.4,1969.6C1005.9,1961.4 1012.4,1953.4 1018.9,1945.3C1025.4,1937.2 1030.9,1930.4 1038.4,1920.8C1045.9,1911.3 1056.2,1898.1 1064,1888.2C1071.8,1878.3 1078.3,1870.2 1085.4,1861.6C1092.5,1853 1098.6,1845.9 1106.8,1836.5C1115,1827.1 1124.2,1816.9 1134.8,1805.2C1145.4,1793.4 1158.6,1778.8 1170.5,1766C1182.3,1753.2 1194.1,1740.6 1205.9,1728.5C1217.6,1716.4 1230.2,1703.9 1241,1693.4C1251.8,1682.9 1258.3,1676.5 1270.7,1665.3C1283.1,1654.1 1299,1639.7 1315.5,1626.2C1332,1612.6 1354.7,1595.1 1369.8,1583.9C1384.9,1572.7 1392.4,1567.8 1406,1558.9C1419.6,1550 1436.2,1539.7 1451.3,1530.6C1466.4,1521.6 1485.5,1510.5 1496.6,1504.5C1507.7,1498.6 1512.1,1497.1 1517.7,1494.9C1523.3,1492.8 1525.5,1492.2 1530,1491.7C1534.5,1491.2 1542.5,1491.7 1545,1491.7" fill="none" stroke="#000" stroke-width="2.8" stroke-linecap="butt" stroke-linejoin="round"/>
</g>
<line x1="884.6" y1="1399.6" x2="884.6" y2="2367" stroke="#000" stroke-width="5" stroke-linecap="butt"/>
<rect x="225.7" y="1399.6" width="1317.8" height="967.4" fill="none" stroke="#000" stroke-width="4.4"/>
<line x1="204.7" y1="2367" x2="225.7" y2="2367" stroke="#000" stroke-width="4.4" stroke-linecap="butt"/>
<line x1="204.7" y1="2125.1" x2="225.7" y2="2125.1" stroke="#000" stroke-width="4.4" stroke-linecap="butt"/>
<line x1="204.7" y1="1883.3" x2="225.7" y2="1883.3" stroke="#000" stroke-width="4.4" stroke-linecap="butt"/>
<line x1="204.7" y1="1641.4" x2="225.7" y2="1641.4" stroke="#000" stroke-width="4.4" stroke-linecap="butt"/>
<line x1="204.7" y1="1399.6" x2="225.7" y2="1399.6" stroke="#000" stroke-width="4.4" stroke-linecap="butt"/>
<line x1="213.7" y1="2246.1" x2="225.7" y2="2246.1" stroke="#000" stroke-width="4.4" stroke-linecap="butt"/>
<line x1="213.7" y1="2004.2" x2="225.7" y2="2004.2" stroke="#000" stroke-width="4.4" stroke-linecap="butt"/>
<line x1="213.7" y1="1762.3" x2="225.7" y2="1762.3" stroke="#000" stroke-width="4.4" stroke-linecap="butt"/>
<line x1="213.7" y1="1520.5" x2="225.7" y2="1520.5" stroke="#000" stroke-width="4.4" stroke-linecap="butt"/>
<line x1="518.5" y1="2367" x2="518.5" y2="2387" stroke="#000" stroke-width="5" stroke-linecap="butt"/>
<line x1="884.6" y1="2367" x2="884.6" y2="2387" stroke="#000" stroke-width="5" stroke-linecap="butt"/>
<line x1="1250.7" y1="2367" x2="1250.7" y2="2387" stroke="#000" stroke-width="5" stroke-linecap="butt"/>
<line x1="335.5" y1="2367" x2="335.5" y2="2377" stroke="#000" stroke-width="5" stroke-linecap="butt"/>
<line x1="701.5" y1="2367" x2="701.5" y2="2377" stroke="#000" stroke-width="5" stroke-linecap="butt"/>
<line x1="1067.7" y1="2367" x2="1067.7" y2="2377" stroke="#000" stroke-width="5" stroke-linecap="butt"/>
<line x1="1433.8" y1="2367" x2="1433.8" y2="2377" stroke="#000" stroke-width="5" stroke-linecap="butt"/>
<text transform="translate(192.5,2384) scale(1,1.03)" font-size="57.5" text-anchor="end" font-family='"Liberation Sans", Arial, sans-serif' xml:space="preserve">0</text>
<text transform="translate(192.5,2142.1) scale(1,1.03)" font-size="57.5" text-anchor="end" font-family='"Liberation Sans", Arial, sans-serif' xml:space="preserve">2</text>
<text transform="translate(192.5,1900.3) scale(1,1.03)" font-size="57.5" text-anchor="end" font-family='"Liberation Sans", Arial, sans-serif' xml:space="preserve">4</text>
<text transform="translate(192.5,1658.4) scale(1,1.03)" font-size="57.5" text-anchor="end" font-family='"Liberation Sans", Arial, sans-serif' xml:space="preserve">6</text>
<text transform="translate(192.5,1416.6) scale(1,1.03)" font-size="57.5" text-anchor="end" font-family='"Liberation Sans", Arial, sans-serif' xml:space="preserve">8</text>
<text transform="translate(516.5,2443.5) scale(1,1.03)" font-size="57.5" text-anchor="middle" font-family='"Liberation Sans", Arial, sans-serif' xml:space="preserve">-10</text>
<text transform="translate(884.6,2443.5) scale(1,1.03)" font-size="57.5" text-anchor="middle" font-family='"Liberation Sans", Arial, sans-serif' xml:space="preserve">0</text>
<text transform="translate(1250.7,2443.5) scale(1,1.03)" font-size="57.5" text-anchor="middle" font-family='"Liberation Sans", Arial, sans-serif' xml:space="preserve">10</text>
<text transform="translate(871,2532.8) scale(1,1.03)" font-size="74" text-anchor="middle" font-family='"Liberation Sans", Arial, sans-serif' xml:space="preserve">H(kA/m)</text>
<text transform="translate(113,2001) rotate(-90) scale(1,1.03)" font-size="73" font-family='"Liberation Sans", Arial, sans-serif'><tspan font-family='"Liberation Serif", "Times New Roman", serif' font-size="87">δ</tspan>(μm)</text>
<text transform="translate(299,1489.8) scale(1,1.0)" font-size="102" text-anchor="start" font-family='"Liberation Sans", Arial, sans-serif' xml:space="preserve">(b)</text>
<line x1="458" y1="1431.6" x2="558" y2="1431.6" stroke="#00ff00" stroke-width="7" stroke-linecap="round" stroke-dasharray="16 26"/>
<text transform="translate(589,1449.5) scale(1,1.03)" font-size="64.5" text-anchor="start" font-family='"Liberation Sans", Arial, sans-serif' xml:space="preserve">500 MHz</text>
<line x1="456" y1="1510.4" x2="572" y2="1510.4" stroke="#ff00ff" stroke-width="2.5" stroke-linecap="butt"/>
<text transform="translate(589,1527.5) scale(1,1.03)" font-size="64.5" text-anchor="start" font-family='"Liberation Sans", Arial, sans-serif' xml:space="preserve">800 MHz</text>
<line x1="458" y1="1589.3" x2="558" y2="1589.3" stroke="#808000" stroke-width="7" stroke-linecap="round" stroke-dasharray="16 26"/>
<text transform="translate(589,1606.5) scale(1,1.03)" font-size="64.5" text-anchor="start" font-family='"Liberation Sans", Arial, sans-serif' xml:space="preserve">1 GHz</text>
<line x1="913" y1="1442.5" x2="1029" y2="1442.5" stroke="#000" stroke-width="2.5" stroke-linecap="butt"/>
<text transform="translate(1045,1460.2) scale(1,1.03)" font-size="64.5" text-anchor="start" font-family='"Liberation Sans", Arial, sans-serif' xml:space="preserve">200 MHz</text>
<line x1="915" y1="1519.6" x2="1016" y2="1519.6" stroke="#ff0000" stroke-width="7" stroke-linecap="round" stroke-dasharray="16 26"/>
<text transform="translate(1045,1537.5) scale(1,1.03)" font-size="64.5" text-anchor="start" font-family='"Liberation Sans", Arial, sans-serif' xml:space="preserve">300 MHz</text>
<line x1="913" y1="1599.4" x2="1029" y2="1599.4" stroke="#0000ff" stroke-width="2.5" stroke-linecap="butt"/>
<text transform="translate(1045,1618) scale(1,1.03)" font-size="64.5" text-anchor="start" font-family='"Liberation Sans", Arial, sans-serif' xml:space="preserve">400 MHz</text>
<clipPath id="cc"><rect x="238.0" y="2780.0" width="1308.0" height="971.0"/></clipPath>
<g clip-path="url(#cc)">
<line x1="260.2" y1="2877" x2="396.3" y2="3088.3" stroke="#ff0000" stroke-width="2.6"/>
<line x1="415.6" y1="3110.9" x2="545.5" y2="3226.1" stroke="#ff0000" stroke-width="2.6"/>
<line x1="569.5" y1="3243.9" x2="696.1" y2="3320.9" stroke="#ff0000" stroke-width="2.6"/>
<line x1="723.4" y1="3332.7" x2="1151.3" y2="3451.3" stroke="#ff0000" stroke-width="2.6"/>
<line x1="1180.5" y1="3458.2" x2="1455.6" y2="3512.4" stroke="#ff0000" stroke-width="2.6"/>
<line x1="206.8" y1="3053.4" x2="245.3" y2="3129.5" stroke="#000" stroke-width="2.6"/>
<line x1="262.7" y1="3153.5" x2="393.8" y2="3284" stroke="#000" stroke-width="2.6"/>
<line x1="417.5" y1="3301.9" x2="543.6" y2="3371.7" stroke="#000" stroke-width="2.6"/>
<line x1="570.7" y1="3384.5" x2="694.9" y2="3432.9" stroke="#000" stroke-width="2.6"/>
<line x1="723.4" y1="3442.1" x2="999" y2="3511.6" stroke="#000" stroke-width="2.6"/>
<line x1="1028.3" y1="3517.7" x2="1151" y2="3537.5" stroke="#000" stroke-width="2.6"/>
<line x1="1180.7" y1="3542" x2="1455.4" y2="3580.1" stroke="#000" stroke-width="2.6"/>
<line x1="266.1" y1="3336.2" x2="390.4" y2="3405.4" stroke="#000" stroke-width="2.6" stroke-dasharray="9 6.5"/>
<line x1="419.3" y1="3419" x2="541.8" y2="3466.7" stroke="#000" stroke-width="2.6" stroke-dasharray="9 6.5"/>
<line x1="572.1" y1="3476.7" x2="693.5" y2="3510.2" stroke="#000" stroke-width="2.6" stroke-dasharray="9 6.5"/>
<line x1="724.7" y1="3517" x2="1150" y2="3588.2" stroke="#000" stroke-width="2.6" stroke-dasharray="9 6.5"/>
<line x1="1181.6" y1="3593.4" x2="1454.5" y2="3638.5" stroke="#000" stroke-width="2.6" stroke-dasharray="9 6.5"/>
</g>
<rect x="243.1" y="2855.4" width="18" height="18" fill="#fff" stroke="#ff0000" stroke-width="2.4"/>
<rect x="395.4" y="3091.9" width="18" height="18" fill="#fff" stroke="#ff0000" stroke-width="2.4"/>
<rect x="547.7" y="3227.1" width="18" height="18" fill="#fff" stroke="#ff0000" stroke-width="2.4"/>
<rect x="699.9" y="3319.7" width="18" height="18" fill="#fff" stroke="#ff0000" stroke-width="2.4"/>
<rect x="1156.8" y="3446.3" width="18" height="18" fill="#fff" stroke="#ff0000" stroke-width="2.4"/>
<rect x="1461.3" y="3506.3" width="18" height="18" fill="#fff" stroke="#ff0000" stroke-width="2.4"/>
<rect x="241.3" y="3132.2" width="21.5" height="21.5" fill="#000"/>
<rect x="393.6" y="3283.8" width="21.5" height="21.5" fill="#000"/>
<rect x="546" y="3368.2" width="21.5" height="21.5" fill="#000"/>
<rect x="698.1" y="3427.7" width="21.5" height="21.5" fill="#000"/>
<rect x="1002.8" y="3504.6" width="21.5" height="21.5" fill="#000"/>
<rect x="1155" y="3529.2" width="21.5" height="21.5" fill="#000"/>
<rect x="1459.5" y="3571.4" width="21.5" height="21.5" fill="#000"/>
<circle cx="252.1" cy="3328.4" r="11" fill="#fff" stroke="#000" stroke-width="2.6"/>
<circle cx="404.4" cy="3413.2" r="11" fill="#fff" stroke="#000" stroke-width="2.6"/>
<circle cx="556.7" cy="3472.5" r="11" fill="#fff" stroke="#000" stroke-width="2.6"/>
<circle cx="708.9" cy="3514.4" r="11" fill="#fff" stroke="#000" stroke-width="2.6"/>
<circle cx="1165.8" cy="3590.8" r="11" fill="#fff" stroke="#000" stroke-width="2.6"/>
<circle cx="1470.3" cy="3641.1" r="11" fill="#fff" stroke="#000" stroke-width="2.6"/>
<rect x="238" y="2780" width="1308" height="971" fill="none" stroke="#000" stroke-width="4.6"/>
<line x1="217" y1="3708" x2="238" y2="3708" stroke="#000" stroke-width="4.6" stroke-linecap="butt"/>
<line x1="217" y1="3285.6" x2="238" y2="3285.6" stroke="#000" stroke-width="4.6" stroke-linecap="butt"/>
<line x1="217" y1="2863.2" x2="238" y2="2863.2" stroke="#000" stroke-width="4.6" stroke-linecap="butt"/>
<line x1="226" y1="3496.8" x2="238" y2="3496.8" stroke="#000" stroke-width="4.6" stroke-linecap="butt"/>
<line x1="226" y1="3074.4" x2="238" y2="3074.4" stroke="#000" stroke-width="4.6" stroke-linecap="butt"/>
<line x1="404.4" y1="3751" x2="404.4" y2="3770" stroke="#000" stroke-width="4.6" stroke-linecap="butt"/>
<line x1="861.2" y1="3751" x2="861.2" y2="3770" stroke="#000" stroke-width="4.6" stroke-linecap="butt"/>
<line x1="1318" y1="3751" x2="1318" y2="3770" stroke="#000" stroke-width="4.6" stroke-linecap="butt"/>
<line x1="632.8" y1="3751" x2="632.8" y2="3761" stroke="#000" stroke-width="4.6" stroke-linecap="butt"/>
<line x1="1089.6" y1="3751" x2="1089.6" y2="3761" stroke="#000" stroke-width="4.6" stroke-linecap="butt"/>
<line x1="1546.4" y1="3751" x2="1546.4" y2="3761" stroke="#000" stroke-width="4.6" stroke-linecap="butt"/>
<text transform="translate(205,3725) scale(1,1.03)" font-size="57.5" text-anchor="end" font-family='"Liberation Sans", Arial, sans-serif' xml:space="preserve">1.0</text>
<text transform="translate(205,3302.6) scale(1,1.03)" font-size="57.5" text-anchor="end" font-family='"Liberation Sans", Arial, sans-serif' xml:space="preserve">1.5</text>
<text transform="translate(205,2880.2) scale(1,1.03)" font-size="57.5" text-anchor="end" font-family='"Liberation Sans", Arial, sans-serif' xml:space="preserve">2.0</text>
<text transform="translate(404.4,3828.5) scale(1,1.03)" font-size="57.5" text-anchor="middle" font-family='"Liberation Sans", Arial, sans-serif' xml:space="preserve">300</text>
<text transform="translate(861.2,3828.5) scale(1,1.03)" font-size="57.5" text-anchor="middle" font-family='"Liberation Sans", Arial, sans-serif' xml:space="preserve">600</text>
<text transform="translate(1318,3828.5) scale(1,1.03)" font-size="57.5" text-anchor="middle" font-family='"Liberation Sans", Arial, sans-serif' xml:space="preserve">900</text>
<text transform="translate(771.7,3905.4) scale(1,1.03)" font-size="76" font-family='"Liberation Sans", Arial, sans-serif'><tspan font-style="italic">f</tspan><tspan dx="-6">(MHz)</tspan></text>
<text transform="translate(94,3386) rotate(-90) scale(1,1.03)" font-size="72" font-family='"Liberation Serif", "Times New Roman", serif'>δ</text>
<text transform="translate(124.8,3338) rotate(-90) scale(1,1.03)" font-size="47" font-family='"Liberation Serif", "Times New Roman", serif'>min</text>
<text transform="translate(93.4,3259) rotate(-90) scale(1,1.03)" font-size="74" font-family='"Liberation Sans", Arial, sans-serif'>(μm)</text>
<text transform="translate(321,2868.5) scale(1,1.0)" font-size="102" text-anchor="start" font-family='"Liberation Sans", Arial, sans-serif' xml:space="preserve">(c)</text>
<text transform="translate(946,2854.6) scale(1,1.03)" font-size="75" text-anchor="start" font-family='"Liberation Sans", Arial, sans-serif' xml:space="preserve">Stress-annealing:</text>
<line x1="926" y1="2909.3" x2="978.5" y2="2909.3" stroke="#000" stroke-width="2.6" stroke-linecap="butt" stroke-dasharray="8.8 5.2"/>
<line x1="1040" y1="2909.3" x2="1092.5" y2="2909.3" stroke="#000" stroke-width="2.6" stroke-linecap="butt" stroke-dasharray="8.8 5.2"/>
<circle cx="1011.3" cy="2909.3" r="10.8" fill="#fff" stroke="#000" stroke-width="2.7"/>
<line x1="926" y1="3041.7" x2="983" y2="3041.7" stroke="#000" stroke-width="2.3" stroke-linecap="butt"/>
<line x1="1040" y1="3041.7" x2="1097" y2="3041.7" stroke="#000" stroke-width="2.3" stroke-linecap="butt"/>
<rect x="1000" y="3030" width="23" height="23" fill="#000"/>
<line x1="930" y1="3243.2" x2="986.6" y2="3243.2" stroke="#ff0000" stroke-width="2.8" stroke-linecap="butt"/>
<line x1="1044.8" y1="3243.2" x2="1101" y2="3243.2" stroke="#ff0000" stroke-width="2.8" stroke-linecap="butt"/>
<rect x="1005.3" y="3233.2" width="20.5" height="19.5" fill="#fff" stroke="#ff0000" stroke-width="2.5"/>
<text transform="translate(1128,2933.7) scale(1,1.03)" font-size="75" text-anchor="start" font-family='"Liberation Sans", Arial, sans-serif' font-style="italic" xml:space="preserve">T</text>
<text transform="translate(1164.6,2964.7) scale(1,1.03)" font-size="47" text-anchor="start" font-family='"Liberation Sans", Arial, sans-serif' font-style="italic" xml:space="preserve">ann</text>
<text transform="translate(1238,2933.7) scale(1,1.03)" font-size="75" text-anchor="start" font-family='"Liberation Sans", Arial, sans-serif' xml:space="preserve">=350</text>
<text transform="translate(1427.6,2892.5) scale(1,1.03)" font-size="43.5" text-anchor="start" font-family='"Liberation Sans", Arial, sans-serif' xml:space="preserve">o</text>
<text transform="translate(1453.4,2933.7) scale(1,1.03)" font-size="75" text-anchor="start" font-family='"Liberation Sans", Arial, sans-serif' xml:space="preserve">C</text>
<text transform="translate(1128,3066.3) scale(1,1.03)" font-size="75" text-anchor="start" font-family='"Liberation Sans", Arial, sans-serif' font-style="italic" xml:space="preserve">T</text>
<text transform="translate(1164.6,3097.3) scale(1,1.03)" font-size="47" text-anchor="start" font-family='"Liberation Sans", Arial, sans-serif' font-style="italic" xml:space="preserve">ann</text>
<text transform="translate(1238,3066.3) scale(1,1.03)" font-size="75" text-anchor="start" font-family='"Liberation Sans", Arial, sans-serif' xml:space="preserve">=200</text>
<text transform="translate(1427.6,3025.1) scale(1,1.03)" font-size="43.5" text-anchor="start" font-family='"Liberation Sans", Arial, sans-serif' xml:space="preserve">o</text>
<text transform="translate(1453.4,3066.3) scale(1,1.03)" font-size="75" text-anchor="start" font-family='"Liberation Sans", Arial, sans-serif' xml:space="preserve">C</text>
<text transform="translate(922,3149.5) scale(1,1.03)" font-size="75" text-anchor="start" font-family='"Liberation Sans", Arial, sans-serif' xml:space="preserve">Annealing:</text>
<text transform="translate(1132.5,3268.2) scale(1,1.03)" font-size="75" text-anchor="start" font-family='"Liberation Sans", Arial, sans-serif' font-style="italic" xml:space="preserve">T</text>
<text transform="translate(1169.1,3299.2) scale(1,1.03)" font-size="47" text-anchor="start" font-family='"Liberation Sans", Arial, sans-serif' font-style="italic" xml:space="preserve">ann</text>
<text transform="translate(1242.5,3268.2) scale(1,1.03)" font-size="75" text-anchor="start" font-family='"Liberation Sans", Arial, sans-serif' xml:space="preserve">=250</text>
<text transform="translate(1432.1,3227) scale(1,1.03)" font-size="43.5" text-anchor="start" font-family='"Liberation Sans", Arial, sans-serif' xml:space="preserve">o</text>
<text transform="translate(1457.9,3268.2) scale(1,1.03)" font-size="75" text-anchor="start" font-family='"Liberation Sans", Arial, sans-serif' xml:space="preserve">C</text>
</svg>
</body></html>
